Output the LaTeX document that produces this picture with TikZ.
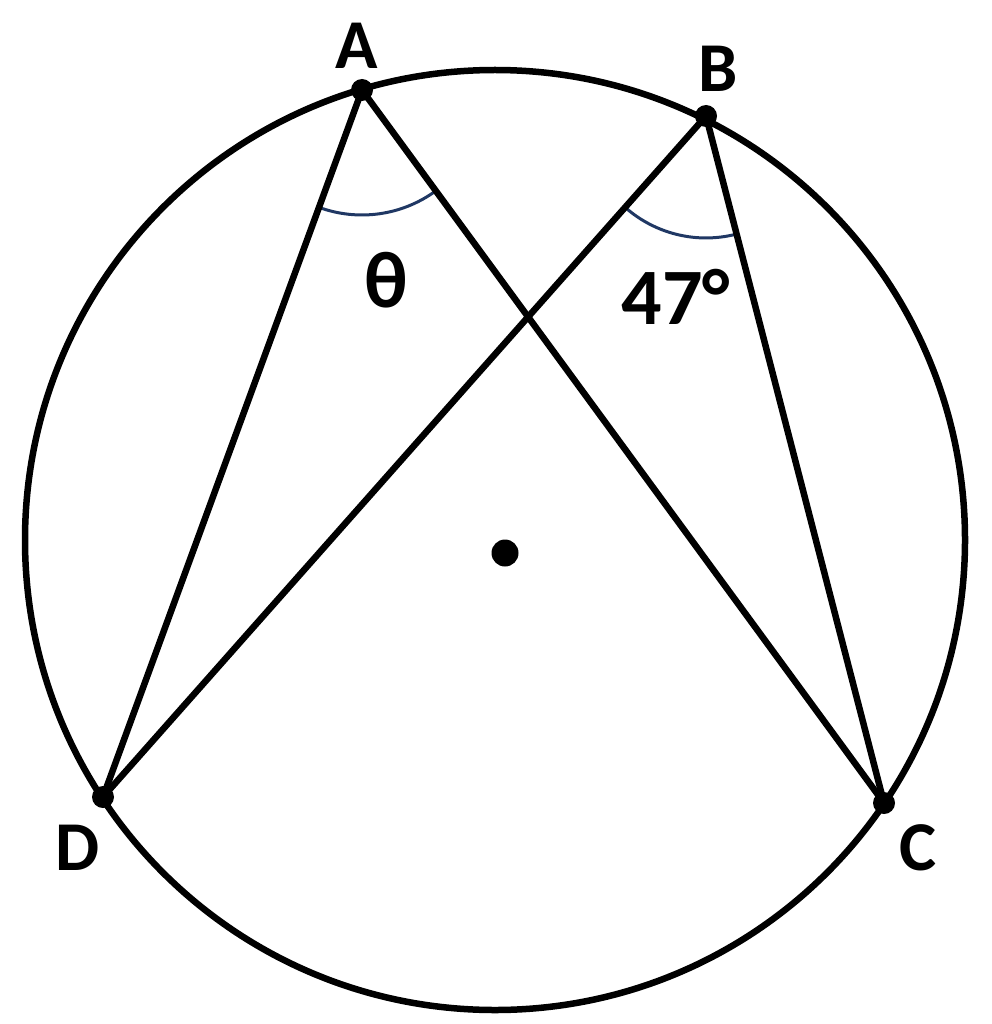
\documentclass[tikz,border=0pt]{standalone}
\usepackage{fontspec}
\setmainfont{Carlito}
\usetikzlibrary{calc}
\begin{document}
\begin{tikzpicture}[x=1pt,y=-1pt,
  edge/.style={line width=6.5pt,line join=round},
  anglemark/.style={line width=3pt,draw={rgb,255:red,32;green,56;blue,100}},
  pt/.style={circle,fill=black,inner sep=0pt,minimum size=22pt},
  lbl/.style={font=\fontsize{70}{76}\selectfont\bfseries,inner sep=0pt},
  big/.style={font=\fontsize{80}{86}\selectfont\bfseries,inner sep=0pt}]
\useasboundingbox (0,0) rectangle (991,1024);
\coordinate (O) at (495,540);
\coordinate (A) at (362,90);
\coordinate (B) at (706,116);
\coordinate (C) at (884,803);
\coordinate (D) at (103,797);
% angle marks
\draw[anglemark] (A) -- ($(A)!125pt!(D)$) arc[start angle=-110.1,end angle=-53.8,radius=125pt] -- cycle;
\draw[anglemark] (B) -- ($(B)!122pt!(D)$) arc[start angle=-131.5,end angle=-75.5,radius=122pt] -- cycle;
\draw[edge] (O) circle[radius=470pt];
\draw[edge] (D) -- (A) -- (C);
\draw[edge] (D) -- (B) -- (C);
\node[pt] (a) at (A) {};
\node[pt] (b) at (B) {};
\node[pt] (c) at (C) {};
\node[pt] (d) at (D) {};
\node[pt,minimum size=27pt] (o) at (505,553) {};
\node[lbl] (la) at (357,46) {A};
\node[lbl] (lb) at (718,69) {B};
\node[lbl] (lc) at (918,848) {C};
\node[lbl] (ld) at (78,848) {D};
\node[big] (th) at (386,280) {θ};
\node[big] (deg) at (676,297) {47°};
\end{tikzpicture}
\end{document}
